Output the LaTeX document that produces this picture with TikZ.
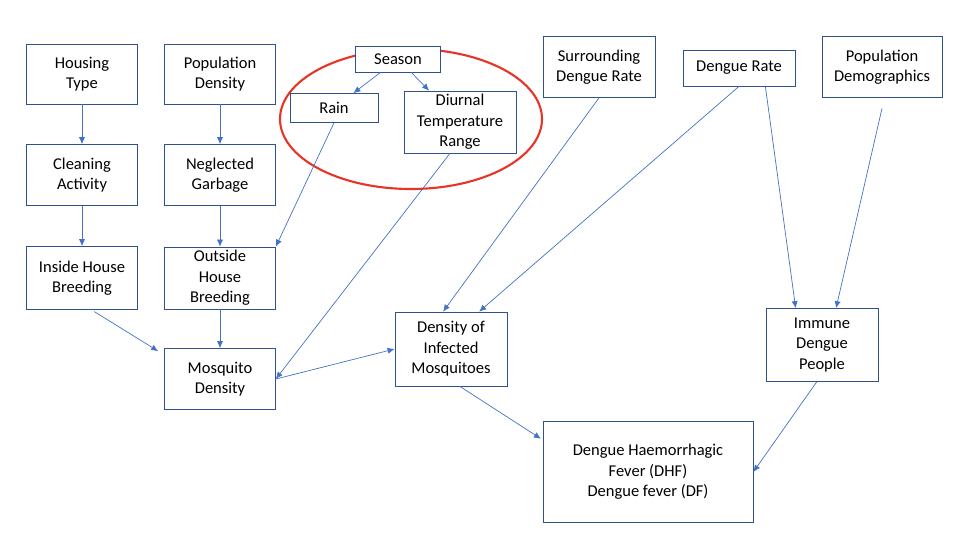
\documentclass[tikz,border=0pt]{standalone}
\usepackage{fontspec}
\setmainfont{Carlito}
\usetikzlibrary{arrows.meta}
\definecolor{boxline}{RGB}{47,82,143}
\definecolor{arrowblue}{RGB}{68,114,196}
\definecolor{ringred}{RGB}{232,52,38}
\tikzset{
  box/.style={draw=boxline, fill=white, align=center, inner sep=1pt,
    font=\fontsize{9.4pt}{11.6pt}\selectfont},
  link/.style={draw=arrowblue, line width=0.4pt, -{Latex[length=4pt,width=3.5pt]}}
}
\begin{document}
\begin{tikzpicture}[x=0.02cm,y=-0.02cm]
  \useasboundingbox (0,0) rectangle (960,540);

  % red ring around the weather group
  \draw[ringred, line width=1.2pt] (411,119) ellipse [x radius=131, y radius=70];

  % left column
  \node[box, minimum width=2.22cm, minimum height=1.2cm] (housing) at (82,74) {Housing\\Type};
  \node[box, minimum width=2.22cm, minimum height=1.2cm] (popdens) at (220,74) {Population\\Density};
  \node[box, minimum width=2.22cm, minimum height=1.22cm] (cleaning) at (82,175) {Cleaning\\Activity};
  \node[box, minimum width=2.22cm, minimum height=1.22cm] (garbage) at (220,175) {Neglected\\Garbage};
  \node[box, minimum width=2.22cm, minimum height=1.26cm] (inside) at (82,278) {Inside House\\Breeding};
  \node[box, minimum width=2.22cm, minimum height=1.24cm] (outside) at (220,278) {Outside\\House\\Breeding};
  \node[box, minimum width=2.22cm, minimum height=1.22cm] (mosq) at (220,379) {Mosquito\\Density};

  % weather
  \node[box, minimum width=1.7cm, minimum height=0.52cm] (season) at (398,59) {Season};
  \node[box, minimum width=1.76cm, minimum height=0.58cm] (rain) at (334,108) {Rain};
  \node[box, minimum width=2.24cm, minimum height=1.24cm] (diurnal) at (460,122) {Diurnal\\Temperature\\Range};

  % right side
  \node[box, minimum width=2.24cm, minimum height=1.22cm] (surround) at (599,67) {Surrounding\\Dengue Rate};
  \node[box, minimum width=2.24cm, minimum height=0.72cm] (rate) at (739,68) {Dengue Rate};
  \node[box, minimum width=2.4cm, minimum height=1.22cm] (demo) at (882,67) {Population\\Demographics};
  \node[box, minimum width=2.24cm, minimum height=1.48cm] (infected) at (451,349) {Density of\\Infected\\Mosquitoes};
  \node[box, minimum width=2.24cm, minimum height=1.46cm] (immune) at (822,345) {Immune\\Dengue\\People};
  \node[box, minimum width=4.2cm, minimum height=2.02cm] (dhf) at (648,472) {Dengue Haemorrhagic\\Fever (DHF)\\Dengue fever (DF)};

  % links
  \draw[link] (housing) -- (cleaning);
  \draw[link] (cleaning) -- (inside);
  \draw[link] (popdens) -- (garbage);
  \draw[link] (garbage) -- (outside);
  \draw[link] (outside) -- (mosq);
  \draw[link] (season) -- (rain);
  \draw[link] (season) -- (diurnal);
  \draw[link] (rain.south) -- (outside.north east);
  \draw[link] ([xshift=-5.7pt]diurnal.south) -- (mosq.east);
  \draw[link] ([xshift=7pt,yshift=-1pt]inside.south) -- ([xshift=-3.4pt,yshift=-1.7pt]mosq.north west);
  \draw[link] (mosq.east) -- (infected.west);
  \draw[link] (surround.south) -- ([xshift=-4.5pt]infected.north);
  \draw[link] (rate.south) -- ([xshift=16pt]infected.north);
  \draw[link] ([xshift=15pt]rate.south) -- ([xshift=-15pt]immune.north);
  \draw[link] ([yshift=-6pt]demo.south) -- ([xshift=8pt]immune.north);
  \draw[link] ([xshift=5pt]infected.south) -- ([xshift=-1pt,yshift=-10pt]dhf.north west);
  \draw[link] ([xshift=-3pt]immune.south) -- (dhf.east);
\end{tikzpicture}
\end{document}
